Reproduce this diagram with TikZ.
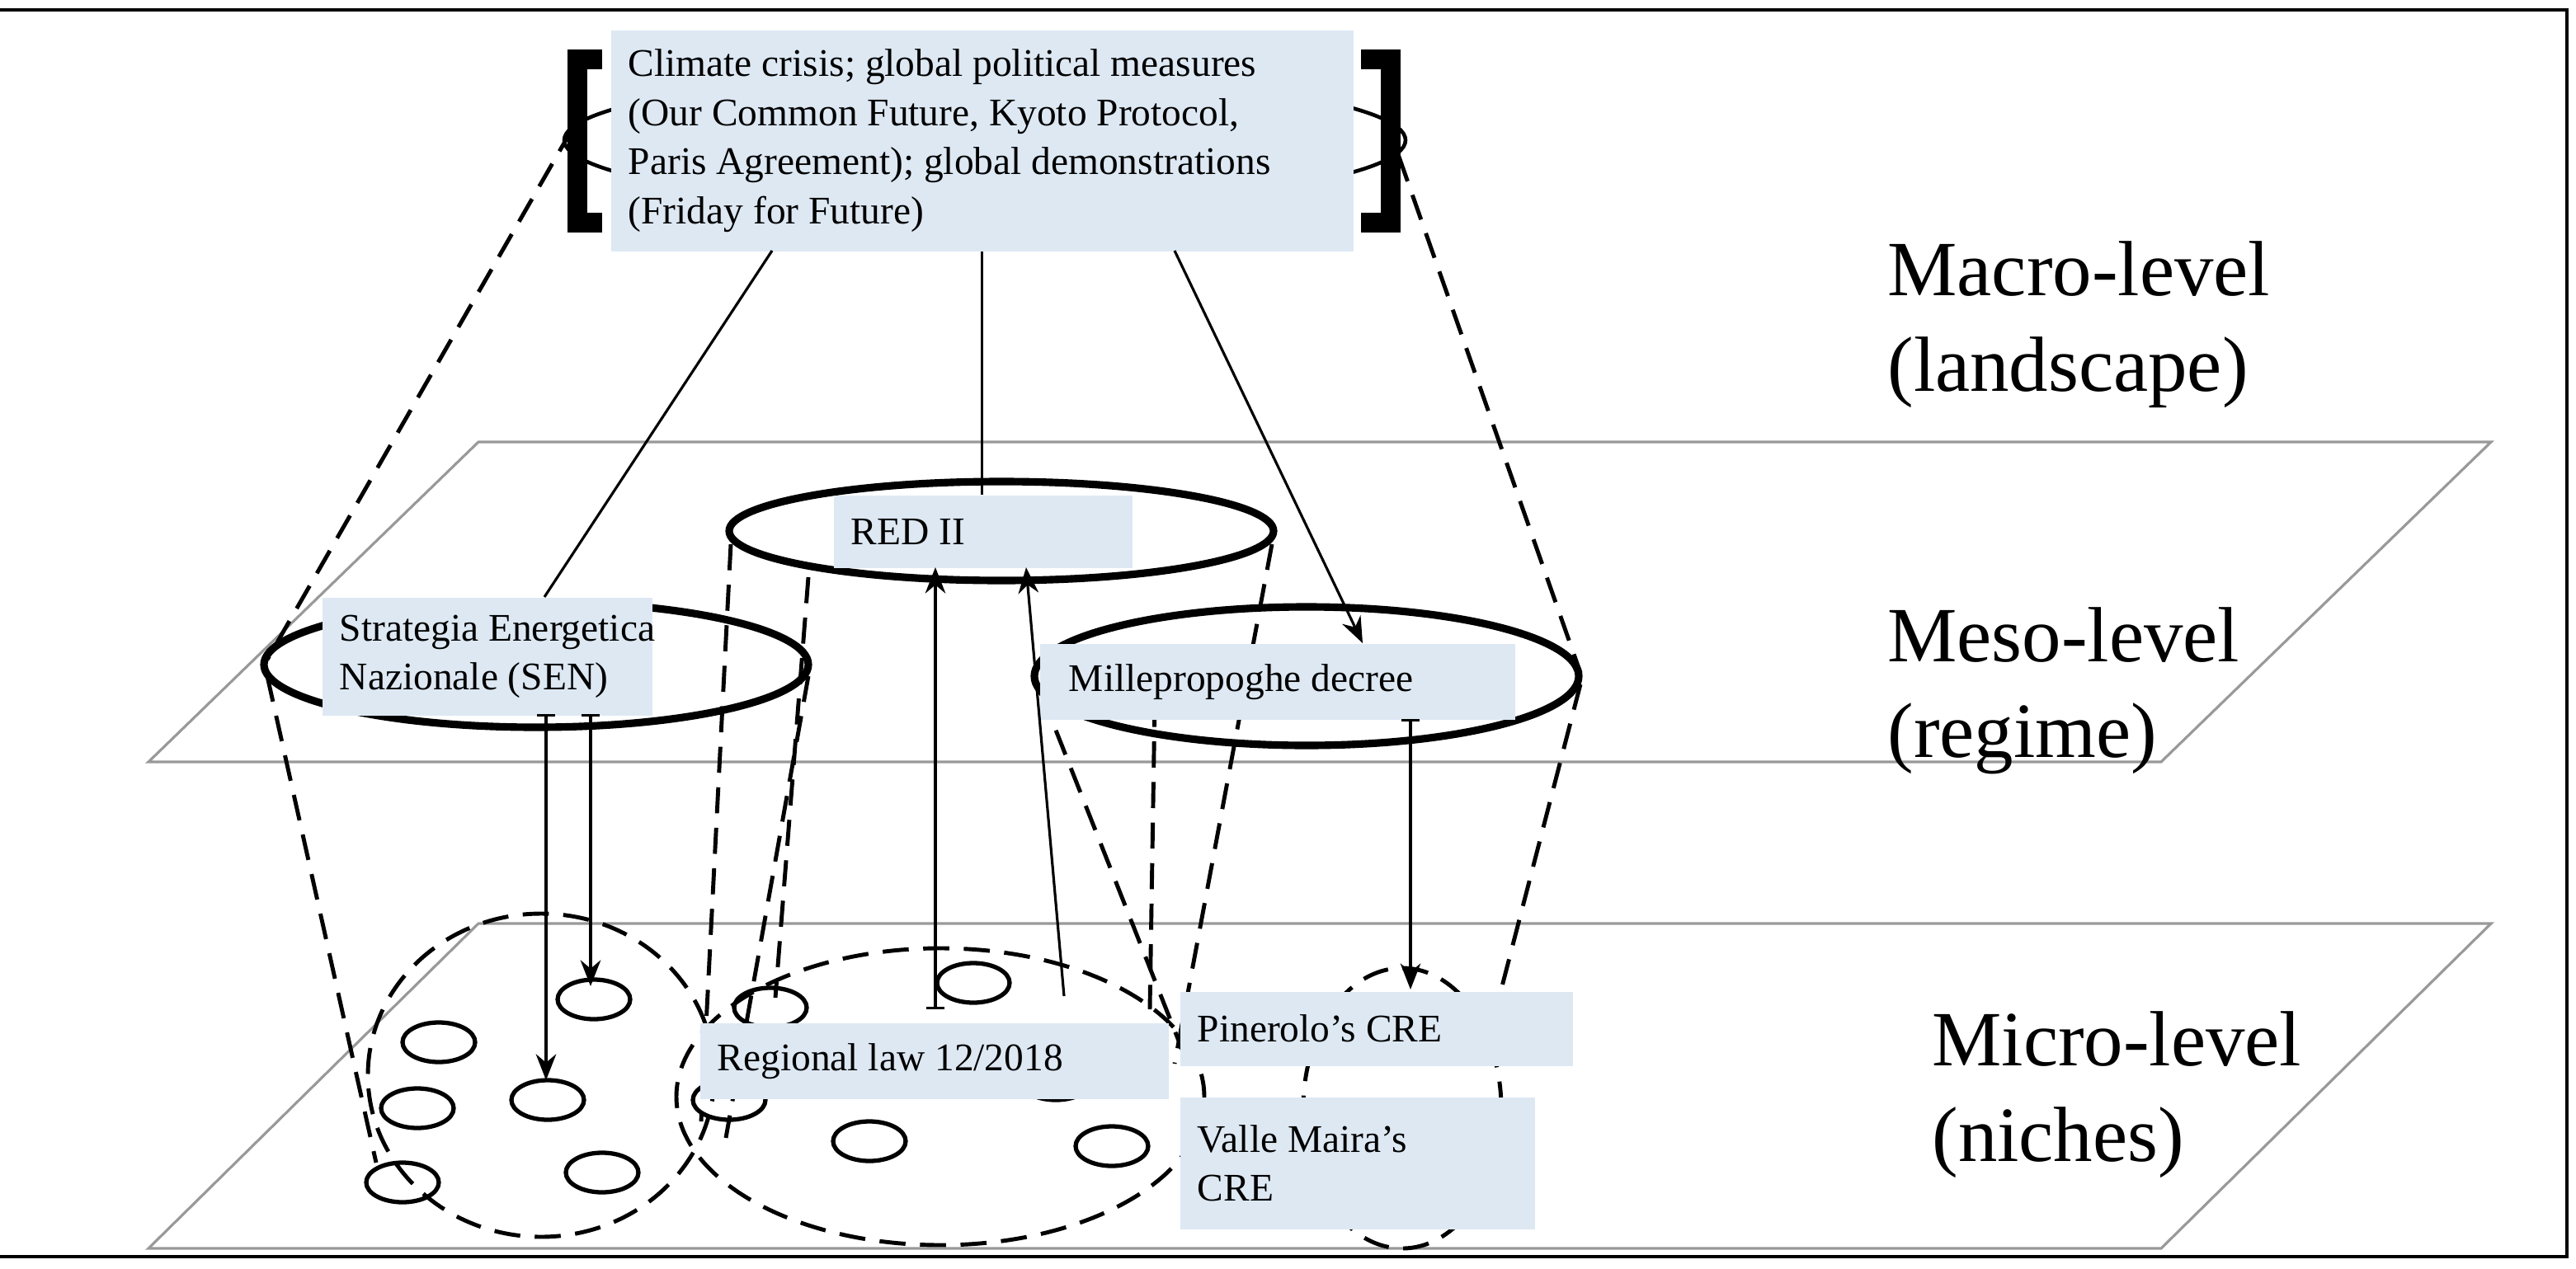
\documentclass[tikz,border=0pt]{standalone}
\usepackage{fontspec}
\setmainfont{Liberation Serif}
\usetikzlibrary{arrows.meta}
\definecolor{boxblue}{RGB}{221,232,243}
\tikzset{
 lbl/.style={fill=boxblue, font=\fontsize{13.5}{17}\selectfont, align=flush left, inner sep=6pt, anchor=north west},
 lvl/.style={font=\fontsize{27}{33}\selectfont, align=left, anchor=north west},
 plane/.style={draw=gray!80, line width=0.9pt},
 cyl/.style={draw, line width=2.6pt},
 dsh/.style={draw, line width=1.4pt, dash pattern=on 9pt off 5pt},
 small/.style={draw, line width=1.5pt},
 arr/.style={line width=0.9pt, -{Stealth[length=9pt,width=7pt]}},
 ln/.style={line width=0.9pt}
}
\begin{document}
\begin{tikzpicture}[x=0.02cm,y=-0.02cm]
\useasboundingbox (0,0) rectangle (1561.5,769.5);
% frame
\draw[line width=1pt] (0,6) -- (1556,6) -- (1556,762) -- (0,762);
% planes
\draw[plane] (90,462) -- (290,268) -- (1510,268) -- (1310,462) -- cycle;
\draw[plane] (90,757) -- (290,560) -- (1510,560) -- (1310,757) -- cycle;
% macro ellipse & brackets
\draw[line width=1.3pt] (597,85) ellipse (255 and 40);
\draw[line width=7pt] (365,36) -- (350,36) -- (350,135) -- (365,135);
\draw[line width=7pt] (825,36) -- (843,36) -- (843,135) -- (825,135);
% macro funnel dashed
\coordinate (mL) at (347,78);
\coordinate (mR) at (848,95);
\draw[dsh] (mL) -- (162,400);
\draw[dsh] (mR) -- (958,408);
% meso ellipses
\draw[cyl] (607,322) ellipse (165 and 30);
\draw[cyl] (325,403) ellipse (165 and 38);
\draw[cyl] (792,410) ellipse (165 and 42);
% cylinder dashed sides
\draw[dsh] (162,410) -- (228,705);
\draw[dsh] (490,410) -- (440,690);
\draw[dsh] (443,330) -- (425,680);
\draw[dsh] (771,330) -- (712,645);
\draw[dsh] (631,420) -- (718,640);
\draw[dsh] (958,415) -- (910,600);
\draw[dsh] (700,425) -- (697,612);
\draw[dsh] (490,350) -- (470,605);
% micro dashed ellipses
\draw[dsh] (328,652) ellipse (105 and 98);
\draw[dsh] (570,665) ellipse (160 and 90);
\draw[dsh] (850,672) ellipse (60 and 85);
% small ellipses
\foreach \p in {(266,632),(360,606),(253,672),(332,667),(244,717),(365,711),(467,611),(590,596),(442,667),(527,692),(674,695),(640,655)}
  \draw[small] \p ellipse (22 and 12);
% labels
\node[lbl, minimum height=2.68cm, text width=8.58cm] (macro) at (370,18) {Climate crisis; global political measures\\(Our Common Future, Kyoto Protocol,\\Paris Agreement); global demonstrations\\(Friday for Future)};
\node[lbl, minimum height=0.88cm, text width=3.2cm] (red) at (505,300) {RED II};
\node[lbl, minimum height=1.42cm, text width=3.58cm] (sen) at (195,362) {\mbox{Strategia Energetica}\\Nazionale (SEN)};
\node[lbl, minimum height=0.92cm, text width=5.34cm] (mil) at (630,390) {\hspace*{4pt}Millepropoghe decree};
\node[lbl, minimum height=0.92cm, text width=5.26cm] (reg) at (424,620) {Regional law 12/2018};
\node[lbl, minimum height=0.9cm, text width=4.34cm] (pin) at (715,601) {Pinerolo’s CRE};
\node[lbl, minimum height=1.6cm, text width=3.88cm] (val) at (715,665) {Valle Maira’s\\CRE};
% target points
\coordinate (t1) at (331,655);
\coordinate (t2) at (358,598);
\coordinate (t3) at (855,600);
% connectors
\draw[ln] (468,152) -- (330,362);
\draw[ln] (macro.south) -- (red.north -| macro.south);
\draw[arr] (712,152) -- (826,390);
\draw[arr,{Bar[width=6pt]}-{Stealth[length=9pt,width=7pt]}] (331,433) -- (t1);
\draw[arr,{Bar[width=6pt]}-{Stealth[length=9pt,width=7pt]}] (358,433) -- (t2);
\draw[arr,{Bar[width=6pt]}-{Stealth[length=9pt,width=7pt]}] (855,436) -- (t3);
\draw[arr,{Bar[width=6pt]}-{Stealth[length=9pt,width=7pt]}] (567,612) -- (567,344);
\draw[arr] (645,604) -- (622,344);
% level labels
\node[lvl] (l1) at (1138,140) {Macro-level\\(landscape)};
\node[lvl] (l2) at (1138,362) {Meso-level\\(regime)};
\node[lvl] (l3) at (1165,607) {Micro-level\\(niches)};
\end{tikzpicture}
\end{document}
